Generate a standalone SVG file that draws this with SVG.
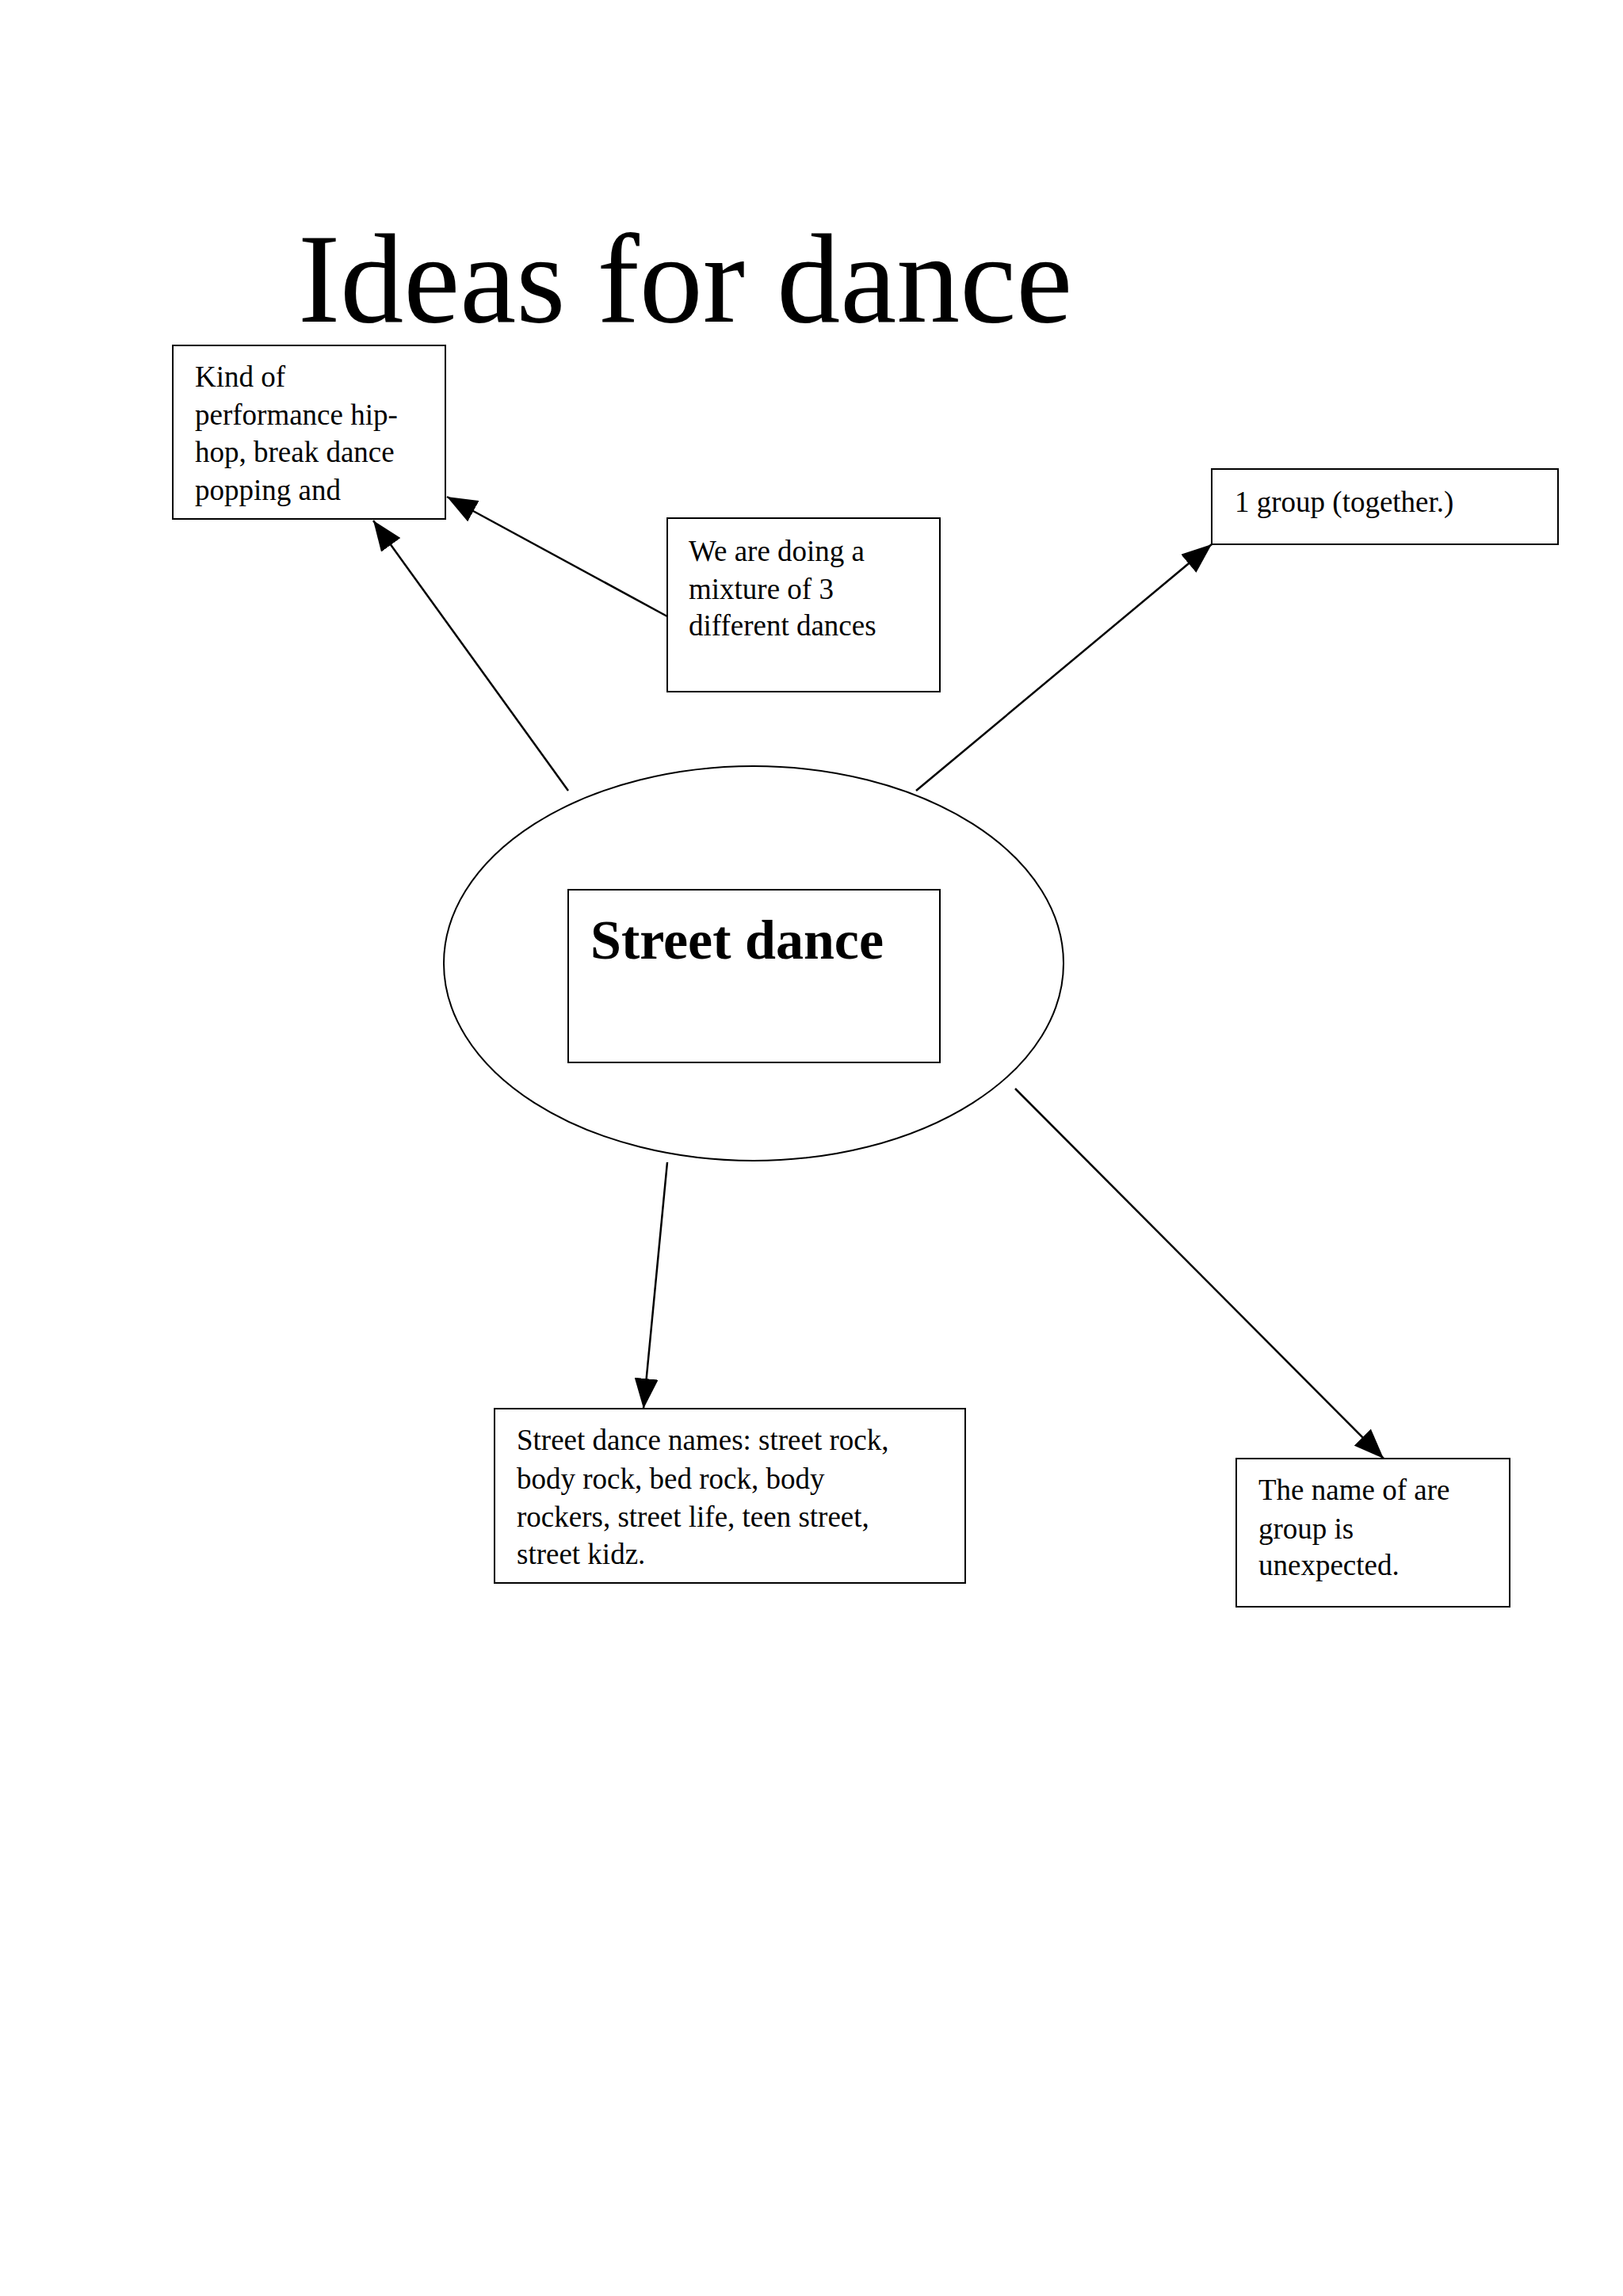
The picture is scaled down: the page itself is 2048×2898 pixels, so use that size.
<svg xmlns="http://www.w3.org/2000/svg" width="2048" height="2898" viewBox="0 0 2048 2898">
<style>
text{font-family:"Liberation Serif","Times New Roman",serif;fill:#000}
.t{font-size:37px}
.b{fill:#fff;stroke:#000;stroke-width:2}
.c{stroke:#000;stroke-width:2.5;fill:none;marker-end:url(#ah)}
</style>
<defs><marker id="ah" markerUnits="userSpaceOnUse" markerWidth="40" markerHeight="30" refX="38" refY="15" orient="auto"><path d="M0,0 L38,15 L0,30 Z" fill="#000"/></marker></defs>
<rect width="2048" height="2898" fill="#fff"/>
<text x="376" y="406" font-size="160">Ideas for dance</text>
<g id="connectors">
<line class="c" x1="717" y1="998" x2="471" y2="657"/>
<line class="c" x1="842" y1="778" x2="564" y2="627"/>
<line class="c" x1="1156" y1="998" x2="1529" y2="687"/>
<line class="c" x1="842" y1="1467" x2="812" y2="1778"/>
<line class="c" x1="1281" y1="1374" x2="1746" y2="1841"/>
</g>
<g id="kind"><rect class="b" x="218" y="436" width="344" height="219"/>
<text class="t" x="246" y="488">Kind of</text><text class="t" x="246" y="536">performance hip-</text><text class="t" x="246" y="583">hop, break dance</text><text class="t" x="246" y="631">popping and</text></g>
<g id="mixture"><rect class="b" x="842" y="654" width="344" height="219"/>
<text class="t" x="869" y="708">We are doing a</text><text class="t" x="869" y="756">mixture of 3</text><text class="t" x="869" y="802">different dances</text></g>
<g id="group"><rect class="b" x="1529" y="592" width="437" height="95"/>
<text class="t" x="1558" y="646">1 group (together.)</text></g>
<g id="street"><ellipse class="b" cx="951" cy="1216" rx="391" ry="249"/>
<rect class="b" x="717" y="1123" width="469" height="218"/>
<text x="745" y="1210" font-size="70" font-weight="bold">Street dance</text></g>
<g id="names"><rect class="b" x="624" y="1778" width="594" height="220"/>
<text class="t" x="652" y="1830">Street dance names: street rock,</text><text class="t" x="652" y="1879">body rock, bed rock, body</text><text class="t" x="652" y="1927">rockers, street life, teen street,</text><text class="t" x="652" y="1974">street kidz.</text></g>
<g id="unexpected"><rect class="b" x="1560" y="1841" width="345" height="187"/>
<text class="t" x="1588" y="1893">The name of are</text><text class="t" x="1588" y="1942">group is</text><text class="t" x="1588" y="1988">unexpected.</text></g>
</svg>
